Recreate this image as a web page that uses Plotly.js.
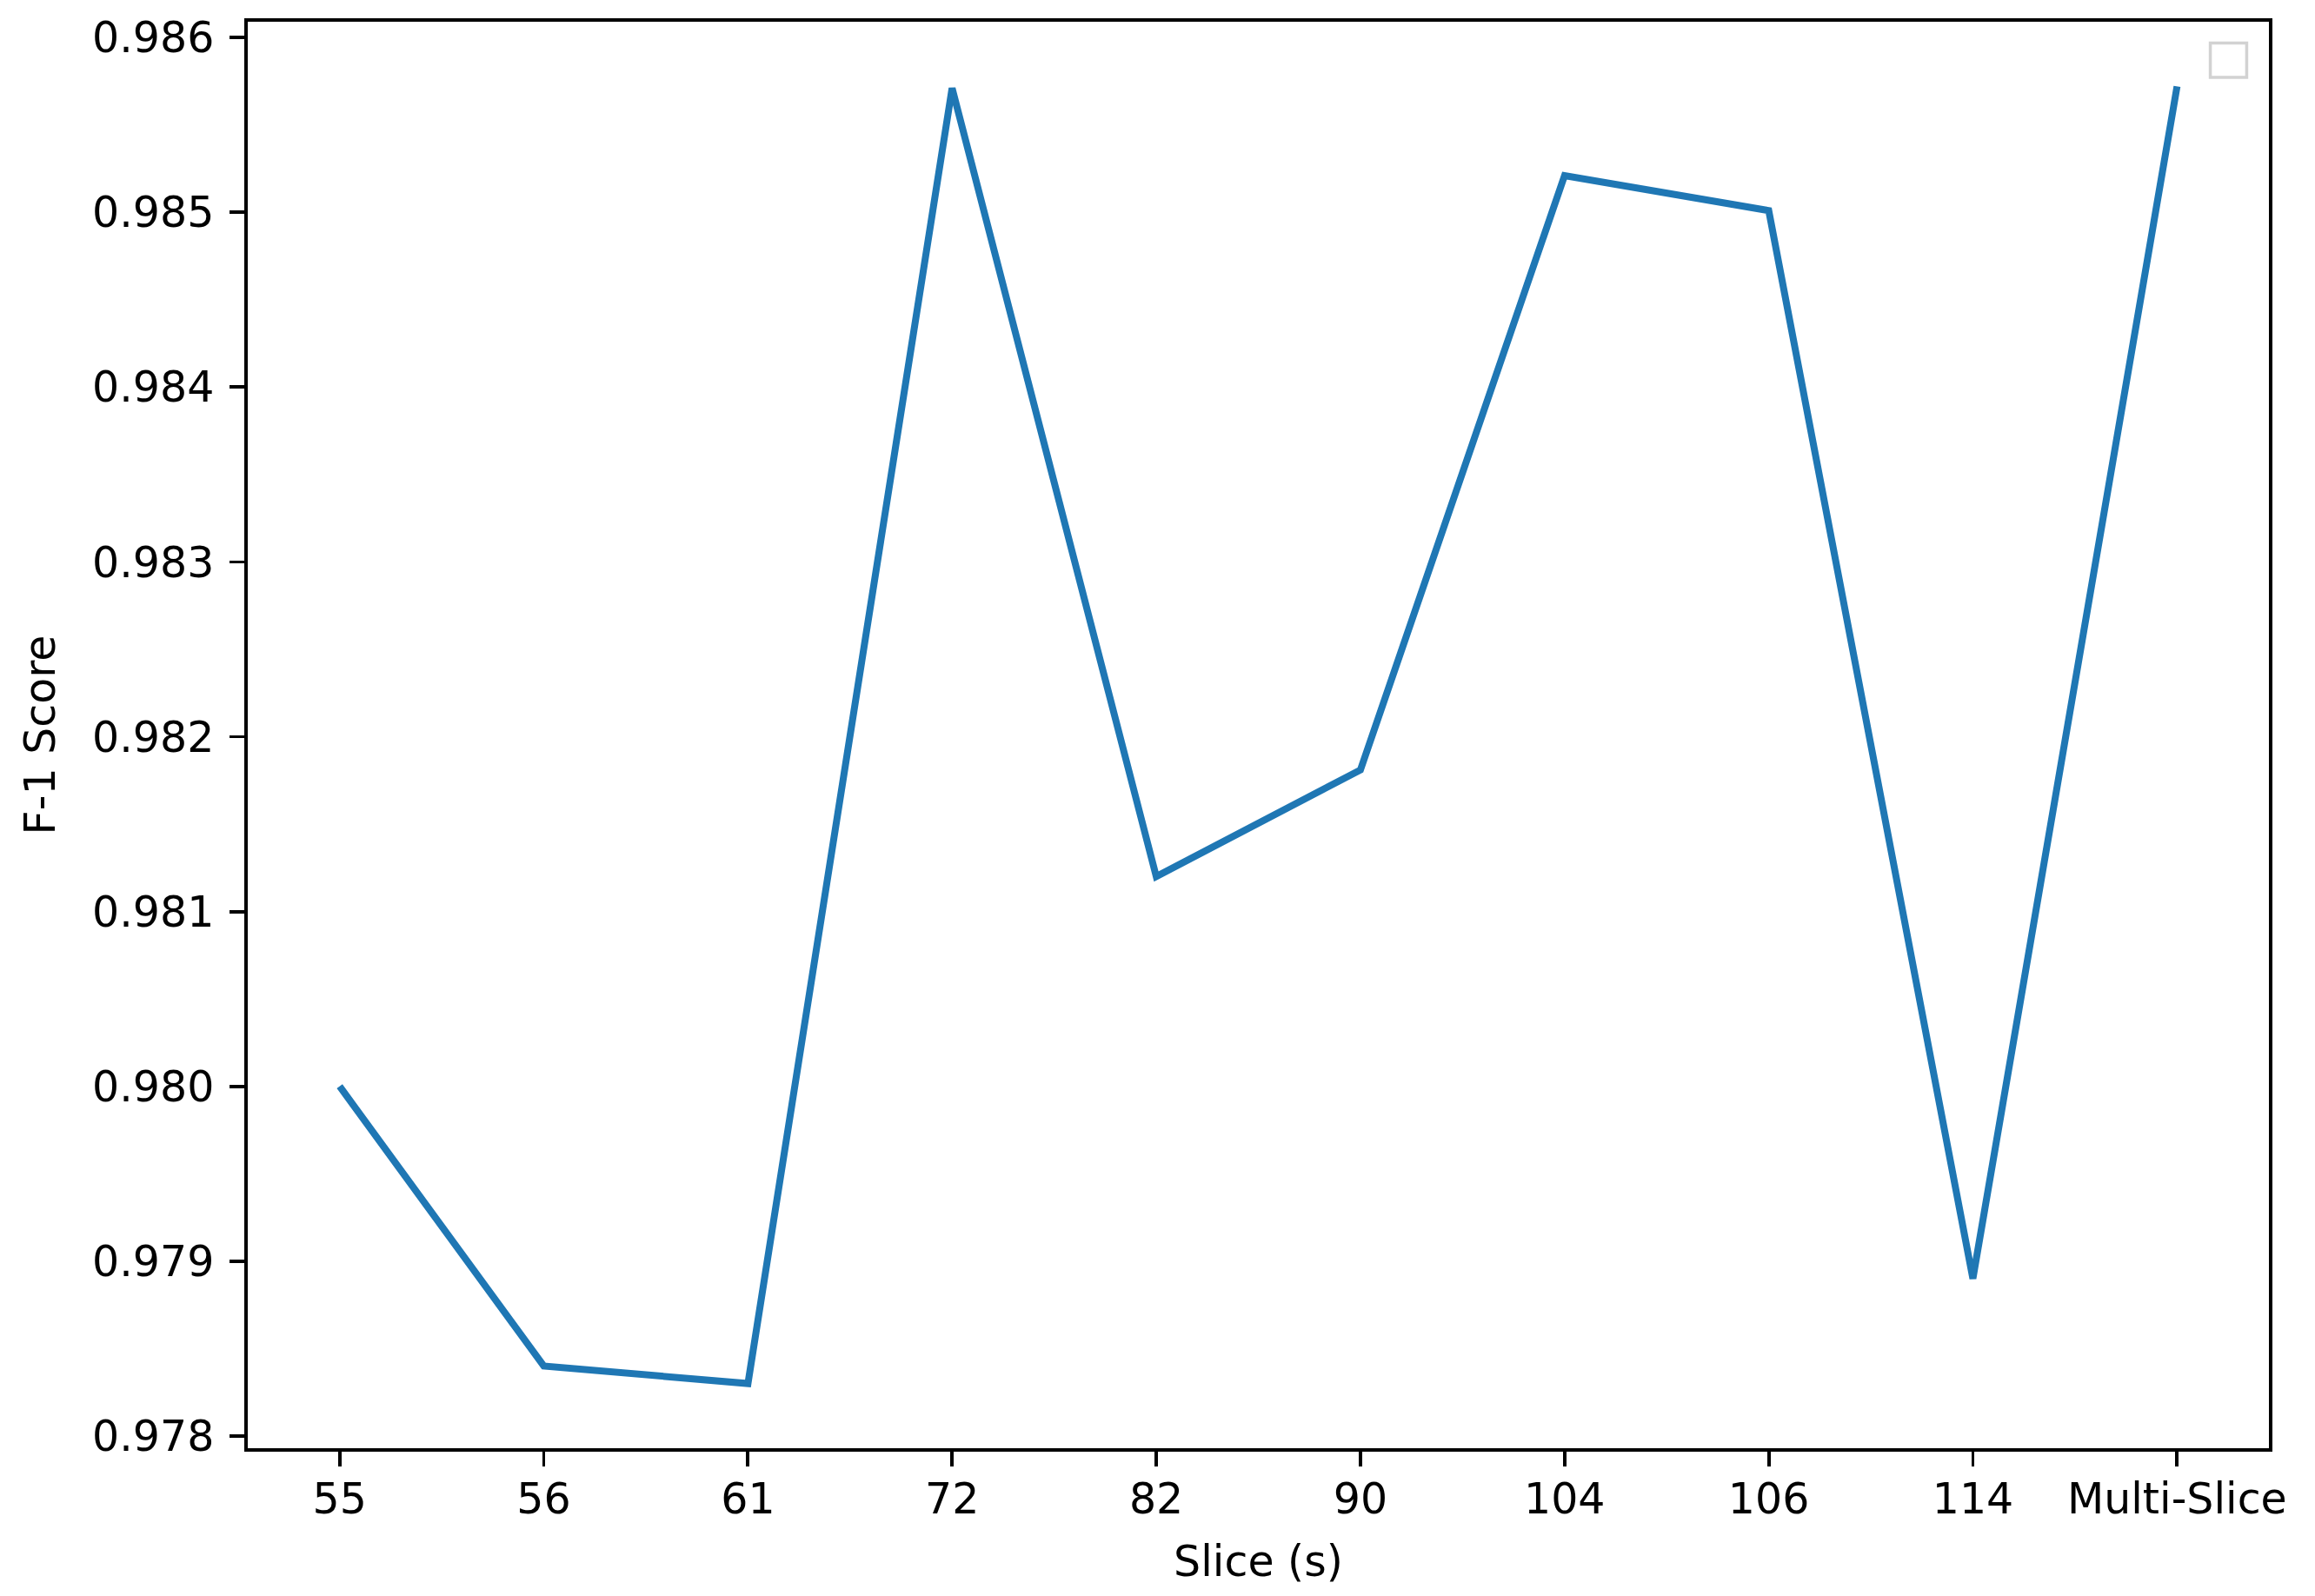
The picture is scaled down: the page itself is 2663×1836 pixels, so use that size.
<!DOCTYPE html>
<html>
<head>
<meta charset="utf-8">
<script src="https://cdn.plot.ly/plotly-3.0.1.min.js"></script>
<style>
    body { margin: 0; padding: 0; background: white; }
    #f1Chart { width: 2663px; height: 1836px; }
</style>
</head>
<body>
<div id="f1Chart"></div>
<script>
// Data
var slices = ["55", "56", "61", "72", "82", "90", "104", "106", "114", "Multi-Slice"];
var f1Scores = [0.9800, 0.97840, 0.97830, 0.98571, 0.98120, 0.98181, 0.98521, 0.98501, 0.97890, 0.98572];
var yTicks = [0.978, 0.979, 0.980, 0.981, 0.982, 0.983, 0.984, 0.985, 0.986];

var fontFamily = "DejaVu Sans, sans-serif";

function plotF1Chart() {
    var trace = {
        x: slices,
        y: f1Scores,
        type: "scatter",
        mode: "lines",
        line: { color: "#1f77b4", width: 8 },
        showlegend: false
    };
    var layout = {
        width: 2663,
        height: 1836,
        margin: { l: 285, r: 53, t: 25, b: 170 },
        paper_bgcolor: "white",
        plot_bgcolor: "white",
        font: { family: fontFamily, size: 49, color: "black" },
        showlegend: false,
        xaxis: {
            type: "category",
            range: [-0.45, 9.45],
            showgrid: false,
            zeroline: false,
            showline: true,
            mirror: true,
            linecolor: "black",
            linewidth: 3.8,
            ticks: "outside",
            ticklen: 17,
            tickwidth: 3.8,
            tickcolor: "black",
            ticklabelstandoff: -5,
            title: { text: "Slice (s)", font: { size: 49 }, standoff: 28 }
        },
        yaxis: {
            range: [0.97793, 0.98609],
            tickvals: yTicks,
            tickformat: ".3f",
            showgrid: false,
            zeroline: false,
            showline: true,
            mirror: true,
            linecolor: "black",
            linewidth: 3.8,
            ticks: "outside",
            ticklen: 17,
            tickwidth: 3.8,
            tickcolor: "black",
            ticklabelstandoff: 8,
            title: { text: "F-1 Score", font: { size: 49 }, standoff: 28 }
        },
        // empty legend frame in the top right corner
        shapes: [{
            type: "rect",
            xref: "paper", yref: "paper",
            x0: 0.971, x1: 0.989,
            y0: 0.961, y1: 0.985,
            line: { color: "#d2d2d2", width: 3.5 },
            fillcolor: "rgba(255,255,255,0.8)"
        }]
    };
    Plotly.newPlot("f1Chart", [trace], layout, { staticPlot: true });
}
plotF1Chart();
</script>
</body>
</html>
